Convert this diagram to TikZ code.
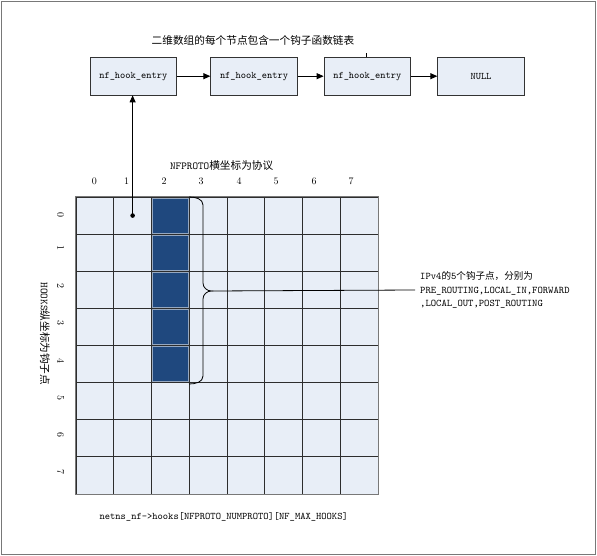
\documentclass[tikz,border=0pt]{standalone}
\usepackage{fontspec}
\newfontfamily\cjk{Noto Sans CJK SC}
\usetikzlibrary{arrows.meta}
\definecolor{cellfill}{RGB}{232,238,247}
\definecolor{boxfill}{RGB}{232,238,247}
\definecolor{darkblue}{RGB}{31,72,126}
\definecolor{bluelines}{RGB}{150,168,192}
\definecolor{gridline}{RGB}{45,45,45}
\definecolor{framegray}{RGB}{120,120,120}
\begin{document}
\begin{tikzpicture}[x=1bp,y=-1bp,
  box/.style={draw=black!80, line width=0.8bp, fill=boxfill, minimum width=86.5bp, minimum height=37.5bp, inner sep=0pt, font=\fontsize{10}{12}\ttfamily},
  cell/.style={draw=gridline, line width=0.9bp, fill=cellfill, minimum width=37.75bp, minimum height=37.125bp, inner sep=0pt},
  bluecell/.style={draw=bluelines, line width=0.8bp, fill=darkblue, minimum width=35.6bp, minimum height=35.2bp, inner sep=0pt},
  arr/.style={-{Triangle[length=7bp,width=6bp]}, line width=0.9bp},
  num/.style={font=\fontsize{10}{12}\selectfont, inner sep=0pt},
  cjktext/.style={font=\fontsize{10.7}{13}\cjk, inner sep=0pt}]
\useasboundingbox (0,0) rectangle (597,556);
\draw[framegray, line width=1.5bp] (1.5,1.5) rectangle (595.5,554.5);
% title
\node[cjktext] (title) at (253,40) {二维数组的每个节点包含一个钩子函数链表};
% list boxes
\node[box] (e1) at (133.3,76.2) {nf\_hook\_entry};
\node[box] (e2) at (254,76.2) {nf\_hook\_entry};
\node[box] (e3) at (367.3,76.2) {nf\_hook\_entry};
\node[box] (e4) at (481,76.2) {NULL};
\draw[arr] (e1) -- (e2);
\draw[arr] (e2) -- (e3);
\draw[arr] (e3) -- (e4);
\draw[line width=0.8bp] ([xshift=-0.6bp]e3.north) -- ++(0,-4.5);
% grid
\foreach \r in {0,...,7}
  \foreach \c in {0,...,7}
    \node[cell] (c-\r-\c) at ({76+37.75*(\c+0.5)},{197+37.125*(\r+0.5)}) {};
\foreach \r in {0,...,4}
  \node[bluecell] (b-\r) at (c-\r-2) {};
\draw[framegray, line width=1.5bp] (c-0-0.north west) rectangle (c-7-7.south east);
% column labels
\node[font=\fontsize{10.7}{13}\selectfont, inner sep=0pt] (xlab) at (221.7,165.7) {{\ttfamily NFPROTO}{\cjk 横坐标为协议}};
\foreach \x [count=\i from 0] in {94.3,126.7,164,201,239,276,314,351}
  \node[num] (col-\i) at (\x,181) {\i};
% row labels
\foreach \y [count=\i from 0] in {215,248.3,286,322.7,360.7,398.3,435,471.7}
  \node[num, rotate=-90] (row-\i) at (60.7,\y) {\i};
\node[font=\fontsize{10.7}{13}\selectfont, inner sep=0pt, rotate=-90] (ylab) at (45,334) {{\ttfamily HOOKS}{\cjk 纵坐标为钩子点}};
% pointer from cell to list
\node[circle, fill=black, inner sep=0pt, minimum size=4.6bp] (dot) at (c-0-1) {};
\draw[arr] (dot.center) -- (dot.center |- e1.south);
% brace
\coordinate (tip) at (211.5,291);
\draw[line width=0.8bp] (189,197) to[out=0,in=90] (203,205) -- (203,283) to[out=-90,in=180] (tip)
  to[out=180,in=90] (203,299) -- (203,376) to[out=-90,in=0] (189,384);
\node[anchor=west, align=left, inner sep=0pt, font=\fontsize{10.2}{13.6}\ttfamily] (ipv4) at (420,290)
  {IPv4{\fontsize{9.6}{13.6}\cjk 的}5{\fontsize{9.6}{13.6}\cjk 个钩子点，分别为}\\PRE\_ROUTING,LOCAL\_IN,FORWARD\\,LOCAL\_OUT,POST\_ROUTING};
\draw[line width=0.8bp] (tip) -- ([xshift=-5bp]ipv4.west);
% array name
\node[font=\fontsize{10.1}{12}\ttfamily, inner sep=0pt] (arrname) at (223.7,516.7) {netns\_nf->hooks[NFPROTO\_NUMPROTO][NF\_MAX\_HOOKS]};
\end{tikzpicture}
\end{document}
